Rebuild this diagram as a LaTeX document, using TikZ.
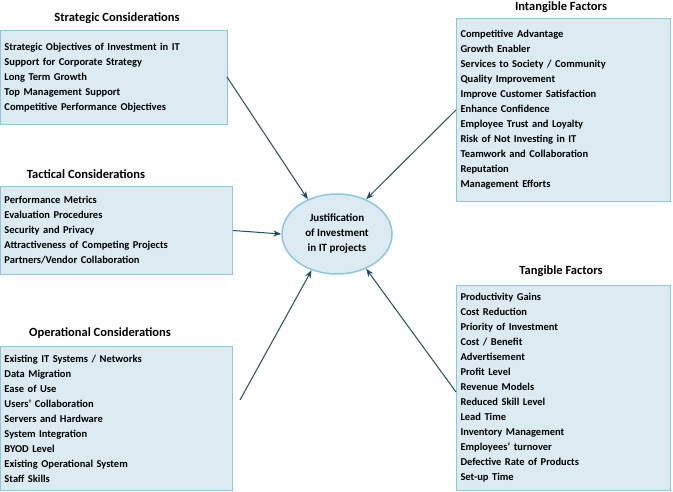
\documentclass[tikz,border=0pt]{standalone}
\usepackage{fontspec}
\setmainfont{Carlito}
\usetikzlibrary{arrows.meta,shapes.geometric}
\tikzset{
  box/.style={draw=boxline, fill=boxfill, line width=1pt, anchor=north west, align=left,
    inner xsep=4pt, inner ysep=3pt, font=\bfseries\fontsize{10.5}{15}\selectfont},
  ttl/.style={font=\bfseries\fontsize{12.5}{15}\selectfont},
  arr/.style={draw=arrcol, line width=1pt, -{Stealth[length=8pt,width=6pt]}}
}
\definecolor{boxfill}{HTML}{DCEBF2}
\definecolor{boxline}{HTML}{8CC8DB}
\definecolor{arrcol}{HTML}{1F4E5F}
\begin{document}
\begin{tikzpicture}[x=1pt,y=-1pt]
\useasboundingbox (0,0) rectangle (673,492);
% left column
\node[ttl] (tstr) at (117,18) {Strategic Considerations};
\node[box, text width=219pt, minimum height=94pt] (str) at (0,30) {Strategic Objectives of Investment in IT\\Support for Corporate Strategy\\Long Term Growth\\Top Management Support\\Competitive Performance Objectives};
\node[ttl] (ttac) at (86,174) {Tactical Considerations};
\node[box, text width=224pt, minimum height=88pt] (tac) at (0,186) {Performance Metrics\\Evaluation Procedures\\Security and Privacy\\Attractiveness of Competing Projects\\Partners/Vendor Collaboration};
\node[ttl] (tope) at (100,333) {Operational Considerations};
\node[box, text width=224pt, minimum height=144pt] (ope) at (0,346) {Existing IT Systems / Networks\\Data Migration\\Ease of Use\\Users' Collaboration\\Servers and Hardware\\System Integration\\BYOD Level\\Existing Operational System\\Staff Skills};
% right column
\node[ttl] (tint) at (561,7) {Intangible Factors};
\node[box, text width=206pt, minimum height=183pt] (int) at (456,18) {Competitive Advantage\\Growth Enabler\\Services to Society / Community\\Quality Improvement\\Improve Customer Satisfaction\\Enhance Confidence\\Employee Trust and Loyalty\\Risk of Not Investing in IT\\Teamwork and Collaboration\\Reputation\\Management Efforts};
\node[ttl] (ttan) at (561,271) {Tangible Factors};
\node[box, text width=206pt, minimum height=205pt] (tan) at (456,285) {Productivity Gains\\Cost Reduction\\Priority of Investment\\Cost / Benefit\\Advertisement\\Profit Level\\Revenue Models\\Reduced Skill Level\\Lead Time\\Inventory Management\\Employees' turnover\\Defective Rate of Products\\Set-up Time};
% centre
\node[ellipse, draw=boxline, fill=boxfill, line width=1.5pt, minimum width=110pt, minimum height=80pt,
  align=center, font=\bfseries\fontsize{11}{15}\selectfont] (jus) at (337,234) {Justification\\of Investment\\in IT projects};
\coordinate (a1) at (227,77);
\coordinate (a3) at (240,400);
\coordinate (a4) at (456,110);
\coordinate (a5) at (456,392);
\draw[arr] (a1) -- (jus.130);
\draw[arr] (tac.east) -- (jus.west);
\draw[arr] (a3) -- (jus.235);
\draw[arr] (a4) -- (jus.50);
\draw[arr] (a5) -- (jus.-50);
\end{tikzpicture}
\end{document}
